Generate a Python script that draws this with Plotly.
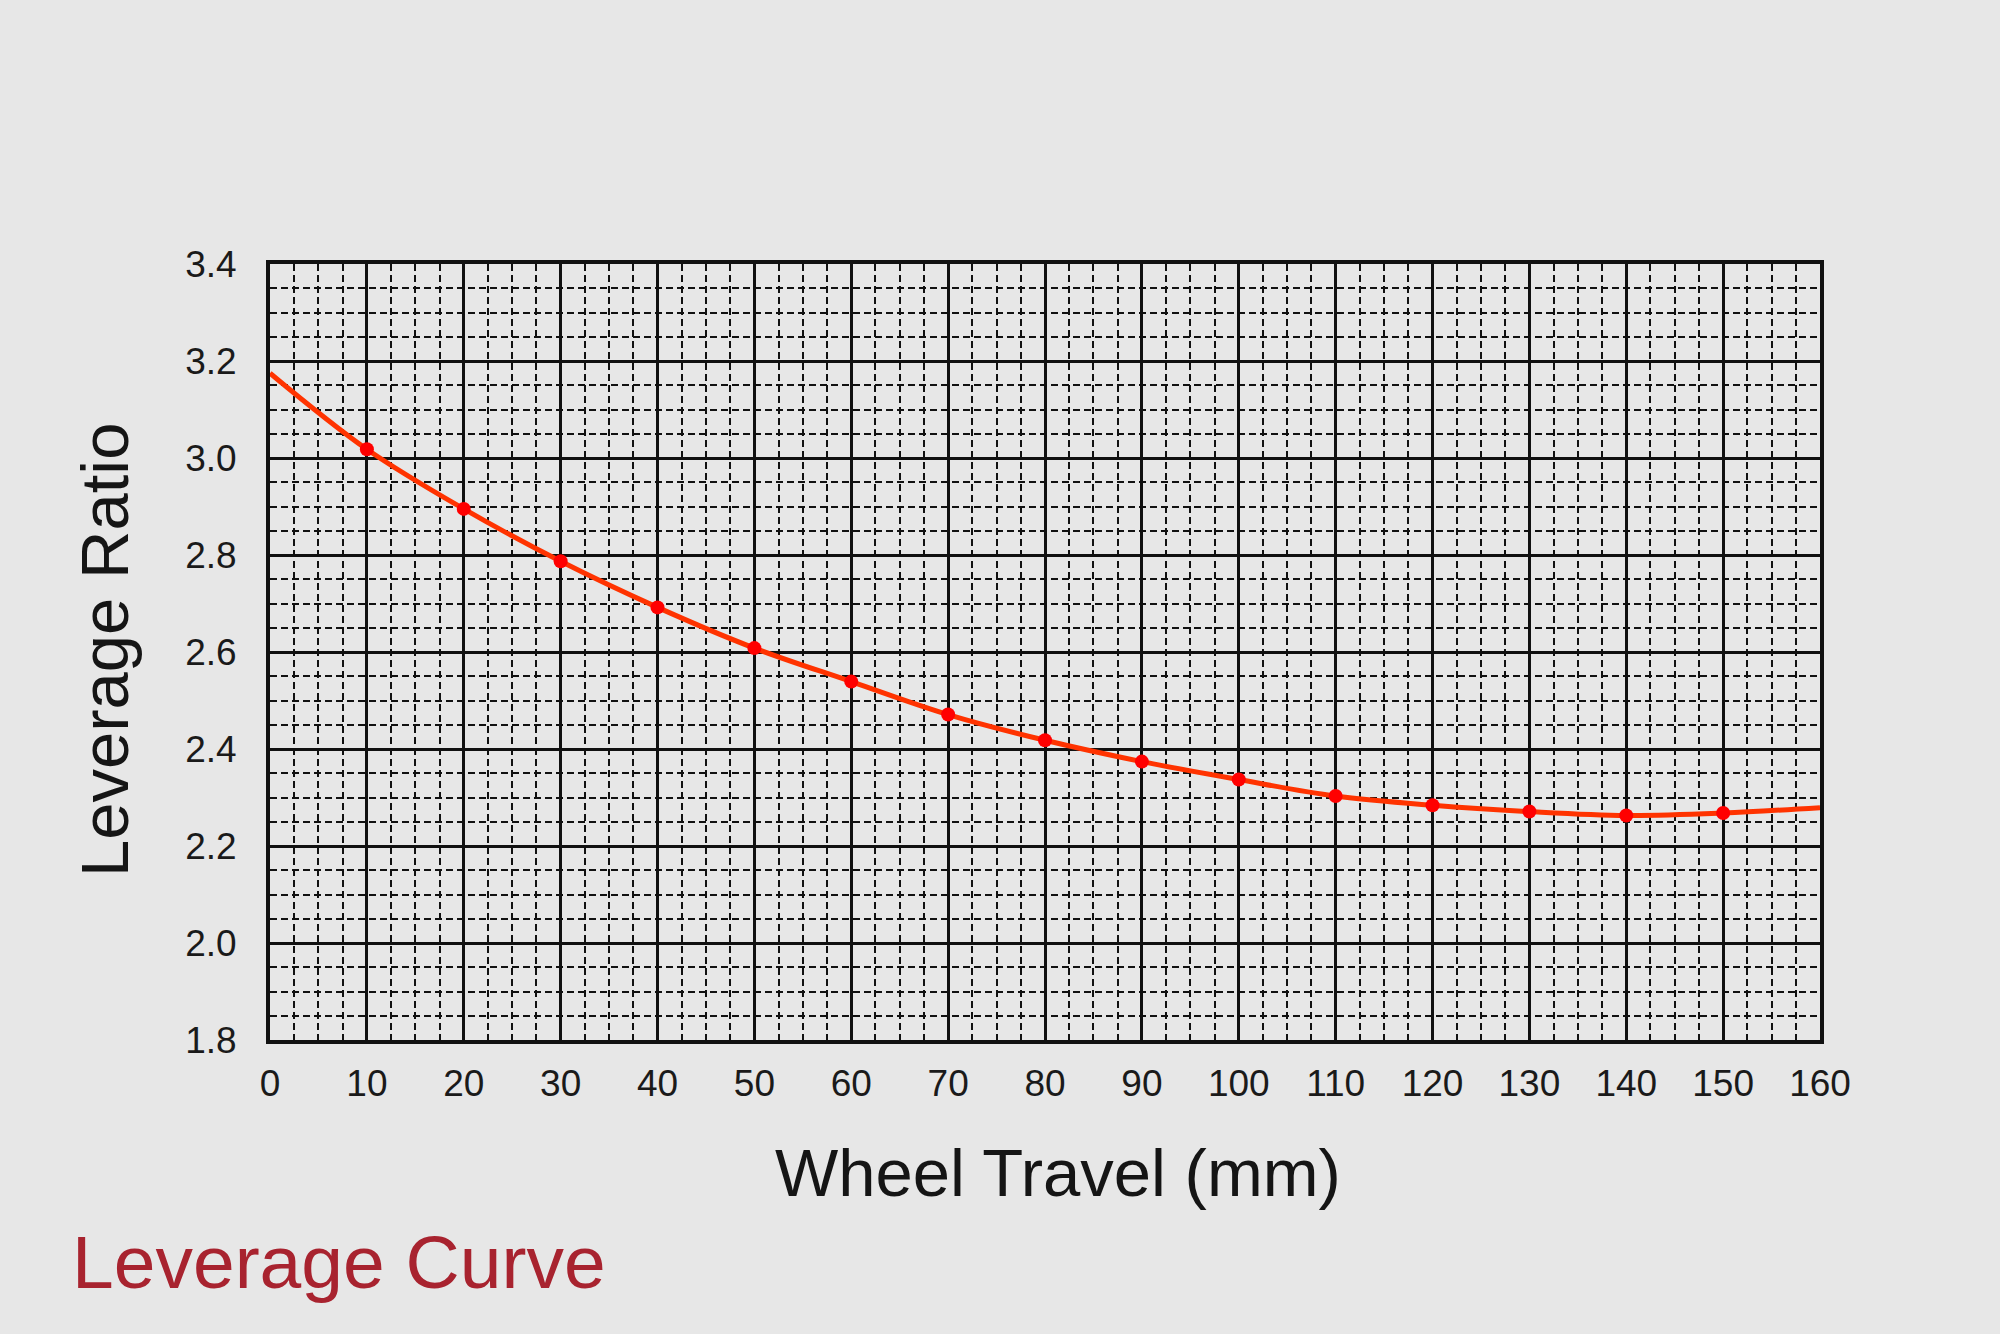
import plotly.graph_objects as go

# Data
travel_line = [0, 10, 20, 30, 40, 50, 60, 70, 80, 90, 100, 110, 120, 130, 140, 150, 160]
ratio_line = [3.175, 3.018, 2.895, 2.787, 2.692, 2.608, 2.539, 2.471, 2.418, 2.374, 2.337,
              2.303, 2.284, 2.271, 2.263, 2.268, 2.279]
travel_pts = [10, 20, 30, 40, 50, 60, 70, 80, 90, 100, 110, 120, 130, 140, 150]
ratio_pts = [3.018, 2.895, 2.787, 2.692, 2.608, 2.539, 2.471, 2.418, 2.374, 2.337,
             2.303, 2.284, 2.271, 2.263, 2.268]
x_ticks = list(range(0, 161, 10))
y_ticks = [1.8, 2.0, 2.2, 2.4, 2.6, 2.8, 3.0, 3.2, 3.4]
y_tick_labels = ["1.8", "2.0", "2.2", "2.4", "2.6", "2.8", "3.0", "3.2", "3.4"]

BG = "#e7e7e7"
FONT = "Liberation Sans, Arial, sans-serif"

fig = go.Figure()
fig.add_trace(go.Scatter(x=travel_line, y=ratio_line, mode="lines",
                         line=dict(color="#ff3300", width=5, shape="spline", smoothing=1.0),
                         hoverinfo="skip", showlegend=False))
fig.add_trace(go.Scatter(x=travel_pts, y=ratio_pts, mode="markers",
                         marker=dict(color="#ff0000", size=14), showlegend=False))

fig.update_layout(
    width=2000, height=1334,
    margin=dict(l=270, r=180, t=264, b=294),
    paper_bgcolor=BG, plot_bgcolor=BG,
    font=dict(family=FONT, color="#1a1a1a"),
    showlegend=False,
)

fig.update_xaxes(
    range=[0, 160], tickvals=x_ticks, ticks="", ticklabelstandoff=8,
    tickfont=dict(size=37, color="#1a1a1a"),
    showgrid=True, gridcolor="#111111", gridwidth=2.5,
    minor=dict(dtick=2.5, showgrid=True, gridcolor="#111111", gridwidth=1.6, griddash="7px,4px"),
    showline=True, linecolor="#111111", linewidth=4, mirror=True, zeroline=False,
)
fig.update_yaxes(
    range=[1.8, 3.4], tickvals=y_ticks, ticktext=y_tick_labels, ticks="", ticklabelstandoff=22,
    tickfont=dict(size=37, color="#1a1a1a"),
    showgrid=True, gridcolor="#111111", gridwidth=2.5,
    minor=dict(dtick=0.05, showgrid=True, gridcolor="#111111", gridwidth=1.6, griddash="7px,4px"),
    showline=True, linecolor="#111111", linewidth=4, mirror=True, zeroline=False,
)

fig.add_annotation(text="Wheel Travel (mm)", xref="paper", yref="paper",
                   x=(1058 - 270) / 1550, y=-(1172 - 1040) / 776,
                   xanchor="center", yanchor="middle", showarrow=False,
                   font=dict(size=67, color="#151515", family=FONT))
fig.add_annotation(text="Leverage Ratio", xref="paper", yref="paper",
                   x=-(270 - 104) / 1550, y=(1040 - 650) / 776, textangle=-90,
                   xanchor="center", yanchor="middle", showarrow=False,
                   font=dict(size=67, color="#151515", family=FONT))
fig.add_annotation(text="Leverage Curve", xref="paper", yref="paper",
                   x=-(270 - 70) / 1550, y=-(1262 - 1040) / 776,
                   xanchor="left", yanchor="middle", showarrow=False,
                   font=dict(size=75, color="#a8232f", family=FONT))

fig.write_html("out.html")
